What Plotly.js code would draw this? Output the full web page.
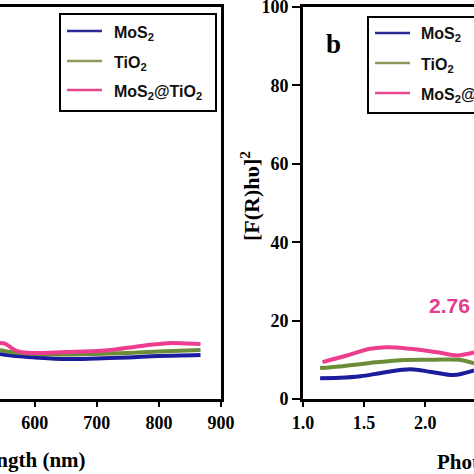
<!DOCTYPE html>
<html>
<head>
<meta charset="utf-8">
<script src="https://cdn.plot.ly/plotly-3.0.1.min.js"></script>
<style>
  html, body { margin: 0; padding: 0; background: #fff; }
  #chart { width: 474px; height: 474px; }
</style>
</head>
<body>
<div id="chart"></div>
<script>
// Series names and colours
const seriesNames = ['MoS<sub>2</sub>', 'TiO<sub>2</sub>', 'MoS<sub>2</sub>@TiO<sub>2</sub>'];
const seriesColors = ['#1c1c9e', '#6b8d3a', '#ec3d8e'];
const legendColors = ['#2a2a96', '#8a9a5a', '#e8468f'];

// (a) absorbance vs wavelength
const wlMoS2 = [544, 570, 600, 650, 700, 750, 800, 867];
const absMoS2 = [0.230, 0.219, 0.212, 0.204, 0.207, 0.212, 0.219, 0.224];
const wlTiO2 = [544, 560, 600, 650, 700, 750, 800, 867];
const absTiO2 = [0.250, 0.240, 0.230, 0.227, 0.230, 0.235, 0.242, 0.250];
const wlComp = [544, 552, 562, 575, 600, 650, 700, 730, 760, 790, 820, 845, 867];
const absComp = [0.286, 0.283, 0.262, 0.241, 0.235, 0.240, 0.245, 0.253, 0.265, 0.278, 0.286, 0.283, 0.281];

// (b) Tauc plot
const evMoS2 = [1.14, 1.30, 1.47, 1.65, 1.88, 2.05, 2.23, 2.32, 2.40];
const taucMoS2 = [5.3, 5.4, 5.8, 6.7, 7.6, 6.9, 6.1, 6.6, 7.3];
const evTiO2 = [1.14, 1.30, 1.55, 1.80, 2.05, 2.28, 2.40];
const taucTiO2 = [7.9, 8.3, 9.2, 9.9, 10.0, 10.0, 9.1];
const evComp = [1.16, 1.36, 1.55, 1.69, 1.88, 2.10, 2.26, 2.34, 2.40];
const taucComp = [9.4, 11.1, 12.8, 13.2, 12.8, 11.9, 11.1, 11.5, 11.9];

// Tick labels
const wlTicks = [600, 700, 800, 900];
const evTicks = [1.0, 1.5, 2.0];
const evTickText = ['1.0', '1.5', '2.0'];
const taucTicks = [0, 20, 40, 60, 80, 100];
const bandGapLabel = '2.76';

// pixel -> paper helpers (plot area spans y 7..399)
const W = 474, TOP = 7, BOT = 399;
const px = x => x / W;
const py = y => (BOT - y) / (BOT - TOP);

const serif = 'Liberation Serif, Times New Roman, serif';
const sans = 'Liberation Sans, Arial, sans-serif';

const panelA = [[wlMoS2, absMoS2], [wlTiO2, absTiO2], [wlComp, absComp]];
const panelB = [[evMoS2, taucMoS2], [evTiO2, taucTiO2], [evComp, taucComp]];

const traces = [];
panelA.forEach((d, i) => traces.push({
  x: d[0], y: d[1], xaxis: 'x', yaxis: 'y', mode: 'lines', name: seriesNames[i],
  line: { color: seriesColors[i], width: 4, shape: 'spline', smoothing: 1 }, showlegend: false
}));
panelB.forEach((d, i) => traces.push({
  x: d[0], y: d[1], xaxis: 'x2', yaxis: 'y2', mode: 'lines', name: seriesNames[i],
  line: { color: seriesColors[i], width: 4, shape: 'spline', smoothing: 1 }, showlegend: false
}));

// Hand-built legend boxes
const shapes = [];
const annotations = [];
function legendBox(x0, x1, y0, y1, lineX0, lineX1, rows, textX) {
  shapes.push({ type: 'rect', xref: 'paper', yref: 'paper', x0: px(x0), x1: px(x1), y0: py(y1), y1: py(y0),
    line: { color: '#000', width: 2 }, fillcolor: '#fff' });
  rows.forEach((ry, i) => {
    shapes.push({ type: 'line', xref: 'paper', yref: 'paper', x0: px(lineX0), x1: px(lineX1), y0: py(ry), y1: py(ry),
      line: { color: legendColors[i], width: 2.5 } });
    annotations.push({ xref: 'paper', yref: 'paper', x: px(textX), y: py(ry + 2), xanchor: 'left', yanchor: 'middle',
      text: seriesNames[i], showarrow: false, font: { family: sans, size: 16, color: '#111', weight: 'bold' } });
  });
}
legendBox(60, 216, 14, 111, 67, 102, [31, 61, 90], 112);
legendBox(368, 490, 17, 113, 375, 410, [33, 63, 93], 419);

annotations.push(
  { xref: 'paper', yref: 'paper', x: px(88), y: py(460), xanchor: 'right', yanchor: 'middle', showarrow: false,
    text: 'Wavelength (nm)', font: { family: serif, size: 21, color: '#000', weight: 'bold' } },
  { xref: 'paper', yref: 'paper', x: px(435), y: py(462), xanchor: 'left', yanchor: 'middle', showarrow: false,
    text: 'Photon energy (eV)', font: { family: serif, size: 21, color: '#000', weight: 'bold' } },
  { xref: 'paper', yref: 'paper', x: px(250), y: py(196), xanchor: 'center', yanchor: 'middle', showarrow: false,
    textangle: -90, text: '[F(R)h\u03c5]<sup>2</sup>', font: { family: serif, size: 22, color: '#000', weight: 'bold' } },
  { xref: 'paper', yref: 'paper', x: px(333), y: py(44), xanchor: 'center', yanchor: 'middle', showarrow: false,
    text: 'b', font: { family: serif, size: 27, color: '#000', weight: 'bold' } },
  { xref: 'paper', yref: 'paper', x: px(449), y: py(305), xanchor: 'center', yanchor: 'middle', showarrow: false,
    text: bandGapLabel, font: { family: sans, size: 21, color: '#e23d8a', weight: 'bold' } }
);

const tickFont = { family: serif, size: 18, color: '#000', weight: 'bold' };

const layout = {
  width: 474, height: 474,
  margin: { l: 0, r: 0, t: TOP, b: 474 - BOT },
  paper_bgcolor: '#fff', plot_bgcolor: '#fff',
  showlegend: false,
  xaxis: {
    domain: [0, px(221)], range: [544, 900], anchor: 'y',
    tickvals: wlTicks, ticks: 'outside', ticklen: 5, tickwidth: 2, tickcolor: '#000',
    showline: true, linewidth: 3, linecolor: '#000', mirror: true,
    showgrid: false, zeroline: false, tickfont: tickFont, ticklabeloverflow: 'allow'
  },
  yaxis: {
    domain: [0, 1], range: [0, 2], anchor: 'x', side: 'right',
    showline: true, linewidth: 3, linecolor: '#000',
    ticks: '', showticklabels: false, showgrid: false, zeroline: false
  },
  xaxis2: {
    domain: [px(303), 1], range: [1.0, 2.4], anchor: 'y2',
    tickvals: evTicks, ticktext: evTickText, ticks: 'outside', ticklen: 5, tickwidth: 2, tickcolor: '#000',
    showline: true, linewidth: 3, linecolor: '#000', mirror: true,
    showgrid: false, zeroline: false, tickfont: tickFont, ticklabeloverflow: 'allow'
  },
  yaxis2: {
    domain: [0, 1], range: [0, 100], anchor: 'x2', tickvals: taucTicks,
    ticks: 'outside', ticklen: 8, tickwidth: 2, tickcolor: '#000',
    showline: true, linewidth: 3, linecolor: '#000',
    showgrid: false, zeroline: false, tickfont: tickFont, ticklabeloverflow: 'allow'
  },
  shapes: shapes,
  annotations: annotations
};

Plotly.newPlot('chart', traces, layout, { staticPlot: true, displayModeBar: false });
</script>
</body>
</html>
